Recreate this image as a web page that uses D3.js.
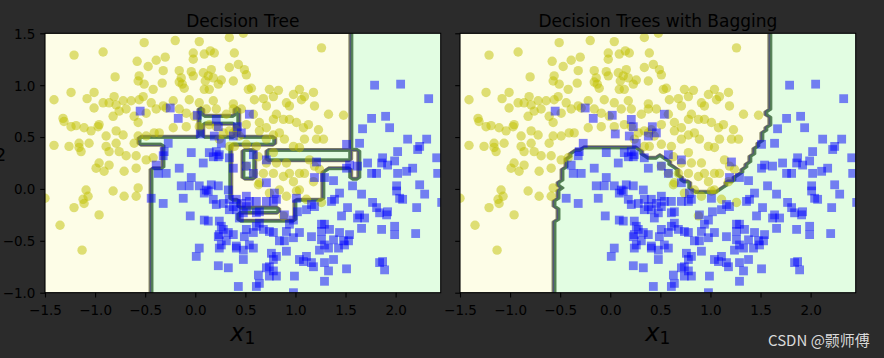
<!DOCTYPE html>
<html><head><meta charset="utf-8">
<script src="https://cdn.jsdelivr.net/npm/d3@7"></script>
<style>
html,body{margin:0;padding:0;background:#2b2b2b;}
svg{display:block;}
</style></head><body>
<svg id="chart" width="884" height="358"></svg>
<script>
// ---------- data ----------
const xDomain = [-1.5, 2.45];
const yDomain = [-1, 1.5];
const xTicks = [-1.5, -1, -0.5, 0, 0.5, 1, 1.5, 2];
const yTicks = [-1, -0.5, 0, 0.5, 1, 1.5];
const titles = ["Decision Tree", "Decision Trees with Bagging"];

// class 0 (yellow circles)
const yellowPts = [[-0.51,1.41],[-0.20,1.43],[0.04,1.42],[0.34,1.46],[0.48,1.50],[1.26,1.36],[-1.21,1.29],[-0.92,1.32],[-0.58,1.23],[-0.39,1.24],[-0.30,1.27],[-0.02,1.31],[-0.02,1.25],[0.09,1.30],[0.15,1.33],[0.19,1.31],[0.39,1.31],[0.43,1.20],[0.49,1.15],[0.34,1.17],[-0.47,1.18],[-0.32,1.14],[-0.16,1.14],[-0.04,1.13],[0.08,1.12],[0.16,1.15],[0.13,1.09],[-0.14,1.07],[-0.13,1.01],[-0.02,1.09],[0.18,1.07],[0.26,1.05],[0.38,1.04],[0.51,1.10],[-0.80,1.08],[-0.56,1.09],[-0.57,1.04],[-0.51,1.01],[-0.42,0.96],[-0.33,1.02],[-0.16,1.03],[-0.11,0.97],[0.10,1.04],[0.09,0.96],[0.14,0.96],[0.23,1.01],[0.53,0.96],[0.56,0.97],[0.74,0.96],[0.83,0.95],[1.04,0.96],[1.18,0.93],[0.98,0.91],[1.09,0.89],
[-1.41,0.86],[-1.24,0.93],[-1.08,0.87],[-1.01,0.93],[-0.92,0.83],[-0.86,0.83],[-0.81,0.89],[-0.79,0.81],[-0.72,0.85],[-0.64,0.85],[-0.56,0.86],[-0.52,0.89],[-0.44,0.83],[-0.32,0.80],[-0.22,0.85],[-0.06,0.86],[0.04,0.83],[0.18,0.85],[0.38,0.82],[0.46,0.77],[0.59,0.86],[0.68,0.87],[0.71,0.80],[0.78,0.89],[0.81,0.72],[0.91,0.83],[0.94,0.80],[1.06,0.86],[1.19,0.80],[1.33,0.72],[1.48,0.71],
[-1.32,0.68],[-1.31,0.65],[-1.24,0.60],[-1.19,0.61],[-1.01,0.78],[-0.82,0.70],[-0.76,0.75],[-0.69,0.77],[-0.61,0.70],[-0.57,0.64],[-0.49,0.73],[-0.39,0.77],[-0.29,0.78],[-0.16,0.77],[-0.09,0.73],[-0.01,0.70],[0.11,0.77],[0.21,0.77],[0.31,0.72],[0.38,0.77],[0.58,0.72],[0.64,0.64],[0.71,0.59],[0.78,0.67],[0.88,0.67],[0.94,0.67],[1.01,0.64],[1.08,0.59],[1.13,0.62],[1.23,0.57],[1.28,0.48],[1.21,0.48],[1.09,0.48],[1.04,0.40],[0.98,0.41],[0.89,0.48],[0.84,0.54],[0.78,0.52],[0.71,0.48],[0.64,0.56],[0.51,0.62],[0.41,0.57],[0.34,0.56],[0.28,0.54],[0.21,0.60],[0.14,0.62],[0.04,0.60],[-0.09,0.60],[-0.22,0.59],[-0.36,0.54],[-0.41,0.54],[-0.49,0.51],[-0.57,0.51],[-0.61,0.44],[-0.72,0.52],[-0.79,0.56],[-0.89,0.51],[-0.97,0.60],[-0.96,0.62],[-1.04,0.56],[-1.11,0.59],[-1.16,0.44],[-1.06,0.44],[-1.16,0.40],[-1.14,0.36],[-1.26,0.41],[-1.41,0.42],[-0.89,0.41],[-0.79,0.44],[-0.86,0.36],[-0.76,0.36],[-0.69,0.32],[-0.59,0.32],[-0.49,0.28],[-0.42,0.30],[-0.59,0.20],[-0.71,0.17],[-0.86,0.23],[-0.91,0.17],[-0.96,0.25],[-0.99,0.20],[-1.09,-0.01],[-1.07,-0.07],[-1.11,-0.14],[-1.12,-0.10],[-1.21,-0.18],[-0.96,-0.25],[-1.35,-0.35],[-1.13,-0.59],[-1.50,-0.09],[-0.82,-0.02],[-0.71,-0.07],[-0.59,-0.07],[-0.57,0.01],
[0.24,0.48],[0.38,0.54],[0.44,0.51],[0.34,0.41],[0.39,0.41],[0.51,0.43],[0.61,0.41],[0.63,0.31],[0.71,0.25],[0.78,0.35],[0.81,0.25],[0.91,0.25],[0.94,0.15],[1.04,0.15],[1.09,0.15],[1.14,0.28],[1.19,0.22],[1.24,0.19],[1.18,0.07],[1.04,-0.01],[0.98,0.07],[0.88,0.12],[0.78,0.15],[0.68,0.15],[0.58,0.15],[0.51,0.22],[0.64,0.06],[0.74,-0.04],[0.84,-0.01],[0.91,-0.07],[1.01,-0.02],[1.11,-0.10],[0.88,-0.26],[0.63,0.04],[1.26,-0.13]];

// class 1 (blue squares)
const bluePts = [[-0.55,0.75],[-0.25,0.78],[-0.17,0.68],[0.02,0.71],[0.54,0.72],[0.21,0.67],[0.23,0.60],[0.42,0.60],[0.05,0.53],[0.19,0.51],[0.26,0.44],[0.46,0.54],[0.38,0.51],[-0.27,0.44],[-0.31,0.36],[-0.32,0.32],[-0.39,0.23],[-0.37,0.15],[-0.29,0.15],[-0.44,-0.09],[-0.32,-0.14],[-0.16,0.20],[-0.04,0.35],[0.08,0.25],[0.14,0.35],[0.21,0.36],[0.24,0.33],[0.34,0.30],[0.38,0.20],[0.18,0.31],[0.23,0.31],[0.58,0.33],[0.51,0.22],[0.58,0.15],[0.71,0.28],[1.21,0.26],[1.19,0.11],[1.38,0.08],[1.51,0.43],[1.64,0.44],[1.54,0.23],[1.62,0.22],[1.51,0.20],[1.57,0.03],[1.66,-0.05],[1.72,0.25],[1.76,0.15],[1.81,0.15],[1.86,0.25],[1.87,0.30],[1.92,0.23],[1.99,0.27],[2.02,0.36],[2.12,0.48],[2.22,0.38],[2.24,0.41],[2.31,0.48],[2.41,0.30],[2.42,0.15],[2.46,-0.13],[2.17,0.20],[2.11,0.17],[2.02,0.15],[2.01,0.03],[2.01,-0.02],[2.04,-0.09],[2.07,-0.10],[2.24,0.04],[2.29,-0.05],[2.21,-0.18],[1.79,1.00],[2.05,1.01],[2.33,0.87],[1.76,0.68],[1.90,0.70],[1.94,0.59],[1.67,0.58],
[1.44,-0.04],[1.52,-0.18],[1.46,-0.26],[1.62,-0.28],[1.64,-0.25],[1.69,-0.28],[1.66,-0.38],[1.86,-0.39],[1.77,-0.13],[1.81,-0.18],[1.84,-0.23],[1.91,-0.25],[1.92,-0.22],[1.99,-0.36],[1.99,-0.44],[2.20,-0.43],[1.87,-0.70],[1.89,-0.78],[1.84,-0.71],
[1.39,-0.10],[1.36,-0.12],[1.29,0.11],[1.11,-0.20],[1.16,-0.15],[1.19,-0.17],[1.02,-0.22],[0.98,-0.30],[0.94,-0.34],[0.91,-0.41],[1.04,-0.42],[0.98,-0.47],[1.16,-0.46],[1.26,-0.34],[1.29,-0.34],[1.34,-0.39],[1.26,-0.41],[1.26,-0.49],[1.29,-0.54],[1.33,-0.57],[1.24,-0.59],[1.38,-0.49],[1.44,-0.42],[1.48,-0.50],[1.53,-0.50],[1.54,-0.44],[1.49,-0.54],[1.43,-0.57],[1.38,-0.68],[1.29,-0.71],[1.33,-0.79],[1.29,-0.89],[1.51,-0.77],[1.04,-0.68],[1.08,-0.70],[1.11,-0.65],[1.16,-0.71],[1.18,-0.75],[0.99,-0.84],[0.98,-1.00],[0.91,-0.60],[0.89,-0.50],[0.84,-0.50],[0.78,-0.42],[0.74,-0.41],[0.68,-0.39],[0.64,-0.33],[0.61,-0.36],[0.58,-0.42],[0.51,-0.39],[0.49,-0.46],[0.54,-0.54],[0.58,-0.57],[0.48,-0.59],[0.41,-0.57],[0.48,-0.68],[0.43,-0.94],[0.63,-0.83],[0.64,-0.91],[0.61,-0.94],[0.71,-0.76],[0.74,-0.75],[0.78,-0.79],[0.81,-0.84],[0.74,-0.84],[0.78,-0.68],[0.76,-0.62],[0.81,-0.65],[0.33,-0.76],[0.23,-0.74],[0.24,-0.57],[0.26,-0.54],[0.04,-0.57],[0.01,-0.65],[-0.05,-0.26],[0.09,-0.30],[0.13,-0.31],[0.24,-0.31],[0.26,-0.36],[0.28,-0.39],[0.24,-0.44],[0.33,-0.42],[0.38,-0.44],[0.41,-0.55],[0.31,-0.50],[0.23,-0.46],[0.34,-0.10],[0.41,-0.10],[0.46,-0.14],[0.48,-0.23],[0.44,-0.28],[0.51,-0.17],[0.54,-0.12],[0.61,-0.23],[0.64,-0.22],[0.71,-0.12],[0.78,-0.12],[0.81,-0.10],[0.79,-0.04],[0.89,-0.25],[1.01,-0.09],[0.41,-0.20],[0.38,-0.17],[0.34,-0.20],[0.28,-0.14],[0.21,-0.15],[0.18,-0.10],[0.11,-0.01],[0.09,-0.04],[0.13,-0.02],[0.04,0.03],[-0.06,0.03],[-0.14,0.03],[-0.04,0.11],[-0.12,-0.09],[0.33,-0.01],[0.16,0.04],[0.23,0.03],[0.71,0.06],[0.51,-0.07],[0.61,-0.12]];

// single decision tree: leaf rectangles [class, x0, x1, y0, y1], later ones override
const treeLeaves = [
  [1,-0.46,2.6,-1.2,0.21],
  [1,1.55,2.6,-1.2,1.7],
  [1,-0.56,0.79,0.43,0.50],
  [1,-0.34,0.34,0.21,0.43],
  [0,0.34,1.26,-0.10,0.38],
  [0,1.26,1.30,0.17,0.38],
  [1,0.72,1.55,0.28,0.38],
  [0,0.45,1.0,-0.30,-0.10],
  [1,0.45,0.85,-0.22,-0.17],
  [1,0.47,0.60,0.10,0.37],
  [0,1.55,1.62,0.10,0.38],
  [1,0.02,0.07,0.50,0.78],
  [1,0.02,0.42,0.63,0.70],
  [1,0.38,0.43,0.50,0.78]
];

// bagging ensemble: boundary of the class-1 region (bottom-left -> top)
const bagBoundary = [[-0.58,-1.2],[-0.58,-0.36],[-0.55,-0.345],[-0.53,-0.23],[-0.55,-0.14],[-0.525,-0.04],[-0.49,0.0],[-0.525,0.04],[-0.48,0.09],[-0.48,0.15],[-0.45,0.25],[-0.40,0.33],[-0.35,0.375],[-0.265,0.40],[0.27,0.40],[0.31,0.366],[0.36,0.31],[0.44,0.296],[0.49,0.334],[0.52,0.296],[0.59,0.26],[0.66,0.19],[0.70,0.10],[0.78,0.06],[0.84,-0.03],[1.07,-0.035],[1.11,0.01],[1.16,0.055],[1.21,0.08],[1.25,0.125],[1.30,0.167],[1.36,0.215],[1.38,0.28],[1.41,0.33],[1.46,0.41],[1.50,0.456],[1.52,0.54],[1.57,0.60],[1.59,0.665],[1.57,0.71],[1.54,0.745],[1.60,0.762],[1.60,1.7],[2.6,1.7],[2.6,-1.2]];

const lineLevels = [0.15, 0.3, 0.45, 0.6, 0.75, 0.9];
const lineColors = ["#7d7d58","#7d7d58","#4c4c7f","#4c4c7f","#507d50","#507d50"];
const fillLevels = [0.3, 0.6];
const fillColors = ["#e0e0ff", "#e2fde2"];
const baseFill = "#fdfde7";

// ---------- drawing ----------
const W = 884, H = 358;
const svg = d3.select("#chart");
svg.append("rect").attr("width", W).attr("height", H).attr("fill", "#2b2b2b");
const defs = svg.append("defs");

const panels = [{left: 45, right: 440.7}, {left: 460, right: 855.7}];
const plotTop = 33.3, plotBottom = 292.7;
const N = 100;
const gx = d3.range(N).map(i => xDomain[0] + i * (xDomain[1] - xDomain[0]) / (N - 1));
const gy = d3.range(N).map(j => yDomain[0] + j * (yDomain[1] - yDomain[0]) / (N - 1));

function treePredict(x, y) {
  let c = 0;
  treeLeaves.forEach(r => { if (x >= r[1] && x < r[2] && y >= r[3] && y < r[4]) c = r[0]; });
  return c;
}
function bagPredict(x, y) { return d3.polygonContains(bagBoundary, [x, y]) ? 1 : 0; }

const font = "'DejaVu Sans', sans-serif";

panels.forEach((p, pi) => {
  const sx = d3.scaleLinear().domain(xDomain).range([p.left, p.right]);
  const sy = d3.scaleLinear().domain(yDomain).range([plotBottom, plotTop]);
  const clipId = "clip" + pi;
  defs.append("clipPath").attr("id", clipId).append("rect")
    .attr("x", p.left).attr("y", plotTop).attr("width", p.right - p.left).attr("height", plotBottom - plotTop);

  const pred = pi === 0 ? treePredict : bagPredict;
  const values = new Array(N * N);
  for (let j = 0; j < N; j++) for (let i = 0; i < N; i++) values[i + j * N] = pred(gx[i], gy[j]);

  const dxs = (xDomain[1] - xDomain[0]) / (N - 1), dys = (yDomain[1] - yDomain[0]) / (N - 1);
  const proj = d3.geoTransform({
    point: function(cx, cy) {
      this.stream.point(sx(xDomain[0] + (cx - 0.5) * dxs), sy(yDomain[0] + (cy - 0.5) * dys));
    }
  });
  const path = d3.geoPath(proj);

  const g = svg.append("g").attr("clip-path", `url(#${clipId})`);
  g.append("rect").attr("x", p.left).attr("y", plotTop).attr("width", p.right - p.left)
    .attr("height", plotBottom - plotTop).attr("fill", baseFill);

  const fills = d3.contours().size([N, N]).thresholds(fillLevels)(values);
  g.selectAll("path.fill").data(fills).join("path").attr("class", "fill")
    .attr("d", path).attr("fill", (d, i) => fillColors[i]).attr("fill-rule", "evenodd");

  const lines = d3.contours().size([N, N]).thresholds(lineLevels)(values);
  g.selectAll("path.line").data(lines).join("path").attr("class", "line")
    .attr("d", path).attr("fill", "none").attr("stroke", (d, i) => lineColors[i])
    .attr("stroke-width", 2.1).attr("stroke-opacity", 0.8).attr("stroke-linejoin", "round");

  g.selectAll("circle").data(yellowPts).join("circle")
    .attr("cx", d => sx(d[0])).attr("cy", d => sy(d[1])).attr("r", 4.7)
    .attr("fill", "#bfbf00").attr("fill-opacity", 0.5);
  const s = 8.8;
  g.selectAll("rect.pt").data(bluePts).join("rect").attr("class", "pt")
    .attr("x", d => sx(d[0]) - s / 2).attr("y", d => sy(d[1]) - s / 2)
    .attr("width", s).attr("height", s)
    .attr("fill", "#0000ff").attr("fill-opacity", 0.5);

  // spines
  svg.append("rect").attr("x", p.left).attr("y", plotTop).attr("width", p.right - p.left)
    .attr("height", plotBottom - plotTop).attr("fill", "none").attr("stroke", "#000").attr("stroke-width", 1.1);

  // x axis
  const xa = svg.append("g").attr("transform", `translate(0,${plotBottom})`)
    .call(d3.axisBottom(sx).tickValues(xTicks).tickSize(4.8).tickPadding(4.8)
      .tickFormat(d => d3.format(".1f")(d).replace("-", "\u2212")));
  xa.select(".domain").remove();
  xa.selectAll("line").attr("stroke", "#000").attr("stroke-width", 1.1);
  xa.selectAll("text").attr("fill", "#000").attr("font-family", font).attr("font-size", 13.5)
    .attr("dy", null).attr("y", 22.3);

  // y axis
  const ya = svg.append("g").attr("transform", `translate(${p.left},0)`)
    .call(d3.axisLeft(sy).tickValues(yTicks).tickSize(4.8).tickPadding(4.8)
      .tickFormat(d => pi === 0 ? d3.format(".1f")(d).replace("-", "\u2212") : ""));
  ya.select(".domain").remove();
  ya.selectAll("line").attr("stroke", "#000").attr("stroke-width", 1.1);
  ya.selectAll("text").attr("fill", "#000").attr("font-family", font).attr("font-size", 13.5)
    .attr("dy", "0.36em");

  // title
  const cx = (p.left + p.right) / 2;
  svg.append("text").attr("x", cx).attr("y", 26.5).attr("text-anchor", "middle")
    .attr("font-family", font).attr("font-size", 17).attr("fill", "#000").text(titles[pi]);

  // x label
  const xl = svg.append("text").attr("x", cx).attr("y", 341).attr("text-anchor", "middle")
    .attr("font-family", font).attr("fill", "#000");
  xl.append("tspan").attr("font-style", "italic").attr("font-size", 24).text("x");
  xl.append("tspan").attr("font-size", 17).attr("dy", 3).text("1");
});

// y label (mostly outside the figure, as in the reference)
const yl = svg.append("text").attr("x", 6).attr("y", 158).attr("text-anchor", "end")
  .attr("font-family", font).attr("fill", "#000");
yl.append("tspan").attr("font-style", "italic").attr("font-size", 24).text("x");
yl.append("tspan").attr("font-size", 17).attr("dy", 3).text("2");

// watermark
svg.append("text").attr("x", 768).attr("y", 346)
  .attr("font-family", "'Noto Sans CJK SC', 'Noto Sans', sans-serif").attr("font-size", 15)
  .attr("fill", "#d9d9d9").text("CSDN @颢师傅");
</script>
</body></html>
